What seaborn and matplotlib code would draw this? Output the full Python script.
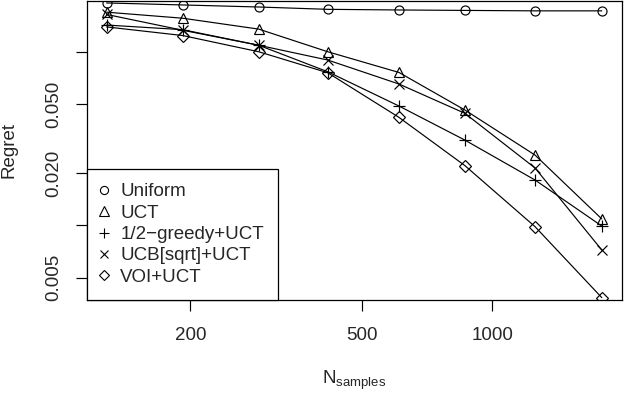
import numpy as np
import pandas as pd
import matplotlib
matplotlib.use('Agg')
import matplotlib.pyplot as plt
import seaborn as sns
from matplotlib.lines import Line2D

n_samples = [128, 192, 288, 416, 608, 864, 1256, 1792]
uniform = [0.191, 0.186, 0.181, 0.1755, 0.174, 0.173, 0.172, 0.172]
uct = [0.169, 0.156, 0.135, 0.100, 0.076, 0.0462, 0.0254, 0.0109]
greedy_uct = [0.1425, 0.134, 0.109, 0.0767, 0.0487, 0.0310, 0.01825, 0.00992]
ucb_sqrt_uct = [0.164, 0.133, 0.109, 0.0896, 0.0652, 0.0442, 0.0214, 0.00722]
voi_uct = [0.139, 0.124, 0.100, 0.0757, 0.0419, 0.0221, 0.00983, 0.00384]

series_names = ['Uniform', 'UCT', '1/2\u2212greedy+UCT', 'UCB[sqrt]+UCT', 'VOI+UCT']
series_vals = [uniform, uct, greedy_uct, ucb_sqrt_uct, voi_uct]
markers = ['o', '^', '+', 'x', 'D']
msizes = [6.5, 7.5, 8.5, 7, 6]

x_ticks = [200, 500, 1000]
y_ticks = [0.005, 0.01, 0.02, 0.05, 0.1]
y_tick_labels = ['0.005', '', '0.020', '0.050', '']

sns.set_style('ticks')
plt.rcParams['font.family'] = ['Liberation Sans', 'DejaVu Sans']
plt.rcParams['mathtext.default'] = 'regular'
fs = 13.5

fig = plt.figure(figsize=(6.24, 3.95), dpi=100)
ax = fig.add_axes([87/624, 1 - 300/395, 535/624, 299/395])

for name, vals, m, ms in zip(series_names, series_vals, markers, msizes):
    df = pd.DataFrame({'n': n_samples, 'regret': vals})
    sns.lineplot(data=df, x='n', y='regret', ax=ax, color='black', lw=0.85,
                 marker=m, ms=ms, mfc='none', mec='black', mew=0.85)

ax.set_xscale('log')
ax.set_yscale('log')
ax.set_xlim(115.3, 1996)
ax.set_ylim(0.00372, 0.196)
ax.minorticks_off()
ax.set_xticks(x_ticks)
ax.set_xticklabels([str(t) for t in x_ticks])
ax.set_yticks(y_ticks)
ax.set_yticklabels(y_tick_labels, rotation=90, va='center')
ax.tick_params(axis='both', direction='out', length=8, width=0.85,
               labelsize=fs, color='black')
ax.tick_params(axis='x', pad=11.5)
ax.tick_params(axis='y', pad=10)
for s in ax.spines.values():
    s.set_color('black')
    s.set_linewidth(0.9)
ax.set_xlabel('')
ax.set_ylabel('')

fig.text(9/624, 1 - 150/395, 'Regret', rotation=90, ha='center', va='center', fontsize=fs)
fig.text(354/624, 1 - 380/395, r'N$_{samples}$', ha='center', va='center', fontsize=fs)

handles = [Line2D([], [], color='black', marker=m, ms=ms * 0.9, mfc='none', mew=0.8,
                  linestyle='none') for m, ms in zip(markers, msizes)]
leg = ax.legend(handles, series_names, loc='lower left', bbox_to_anchor=(0, 0),
                borderaxespad=0, fontsize=fs, fancybox=False, framealpha=1,
                edgecolor='black', borderpad=0.75, labelspacing=0.23,
                handlelength=0.27, handletextpad=0.75)
leg.get_frame().set_linewidth(0.9)

fig.savefig('out.png', dpi=100)
